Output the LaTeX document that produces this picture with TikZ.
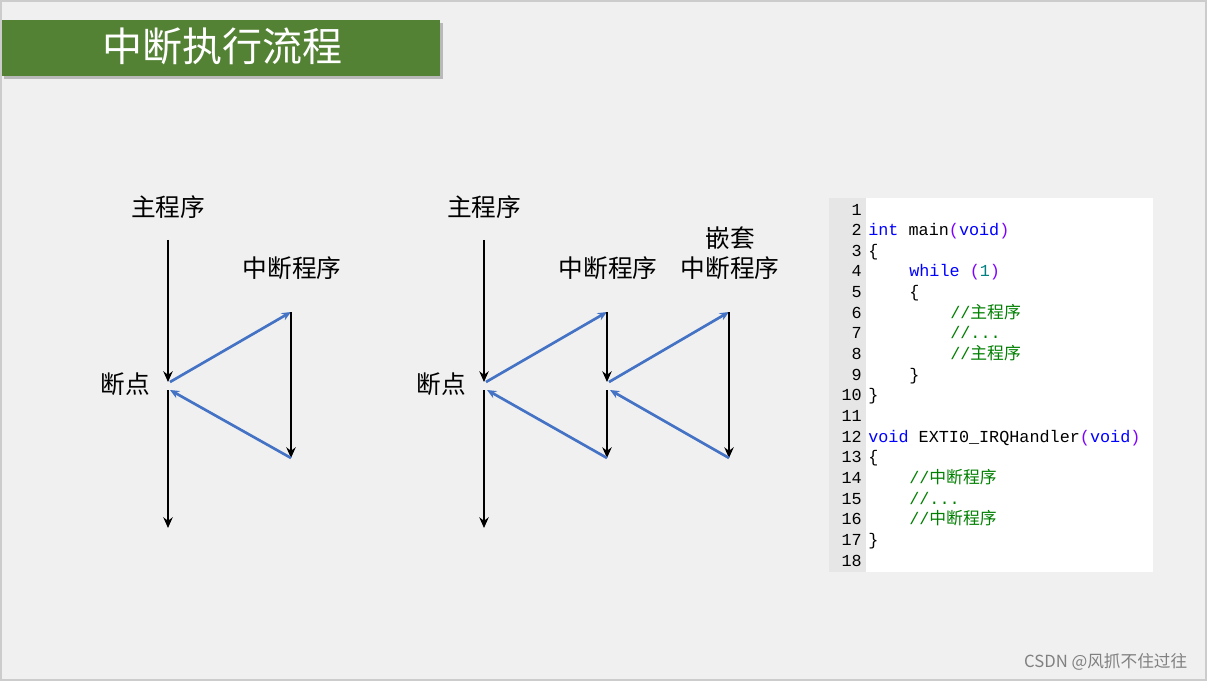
\documentclass[tikz,border=0pt]{standalone}
\usepackage{fontspec}
\setmainfont{Liberation Sans}
\setmonofont{Liberation Mono}
\newfontfamily\cjk{Noto Sans CJK SC}
\usetikzlibrary{arrows.meta}
\definecolor{bg}{HTML}{F0F0F0}
\definecolor{tgreen}{HTML}{548235}
\definecolor{ablue}{HTML}{4472C4}
\definecolor{kw}{HTML}{0000FF}
\definecolor{cm}{HTML}{008000}
\definecolor{pu}{HTML}{8000FF}
\definecolor{gut}{HTML}{E6E6E6}
\begin{document}
\begin{tikzpicture}[x=0.75pt,y=-0.75pt,
  lbl/.style={font=\cjk\fontsize{18.5}{22}\selectfont,inner sep=0},
  blk/.style={draw=black,line width=1.8pt,-{Stealth[length=8pt,width=7pt]}},
  blu/.style={draw=ablue,line width=2pt,-{Stealth[length=7pt,width=6pt]}},
  cd/.style={anchor=base west,inner sep=0,font=\ttfamily\fontsize{12.6}{14}\selectfont},
  ln/.style={anchor=base east,inner sep=0,font=\ttfamily\fontsize{12.6}{14}\selectfont}]
\fill[bg] (0,0) rectangle (1207,681);
\draw[gray!40,line width=1pt] (1,1) rectangle (1206,680);
\fill[gray!55] (4,23) rectangle (443,79);
\fill[tgreen] (2,20) rectangle (440,76);
\node[text=white,font=\cjk\fontsize{30}{34}\selectfont] (title) at (222,46) {中断执行流程};
% diagram 1
\coordinate (a1) at (168,240); \coordinate (a2) at (168,382);
\coordinate (a3) at (168,390); \coordinate (a4) at (168,528);
\coordinate (b1) at (291,312); \coordinate (b2) at (291,458);
\draw[blk] (a1) -- (a2);
\draw[blk] (a3) -- (a4);
\draw[blu] (170,382) coordinate (a2r) -- (b1);
\draw[blk] (b1) -- (b2);
\draw[blu] (b2) -- (170,390) coordinate (a3r);
\node[lbl] (m1) at (168,207) {主程序};
\node[lbl] (i1) at (292,268) {中断程序};
\node[lbl] (d1) at (125,384) {断点};
% diagram 2
\coordinate (c1) at (484,240); \coordinate (c2) at (484,382);
\coordinate (c3) at (484,390); \coordinate (c4) at (484,528);
\coordinate (e1) at (607,312); \coordinate (e2) at (607,382);
\coordinate (e3) at (607,390); \coordinate (e4) at (607,458);
\coordinate (f1) at (729,312); \coordinate (f2) at (729,458);
\draw[blk] (c1) -- (c2);
\draw[blk] (c3) -- (c4);
\draw[blu] (486,382) -- (e1);
\draw[blk] (e1) -- (e2);
\draw[blu] (609,382) -- (f1);
\draw[blk] (f1) -- (f2);
\draw[blu] (f2) -- (610,390);
\draw[blk] (e3) -- (e4);
\draw[blu] (e4) -- (487,390);
\node[lbl] (m2) at (484,207) {主程序};
\node[lbl] (i2) at (608,268) {中断程序};
\node[lbl] (n2) at (730,238) {嵌套};
\node[lbl] (i3) at (730,268) {中断程序};
\node[lbl] (d2) at (441,384) {断点};
% code
\fill[white] (829,198) rectangle (1153,572);
\fill[gut] (829,198) rectangle (866,572);
\foreach \i in {1,...,18} {
  \node[ln] at (862,{215+(\i-1)*20.65}) {\i};
}
\def\Y#1{{215+(#1-1)*20.65}}
\node[cd] at (868,\Y{2}) {\textcolor{kw}{int} main\textcolor{pu}{(}\textcolor{kw}{void}\textcolor{pu}{)}};
\node[cd] at (868,\Y{3}) {\{};
\node[cd] at (909,\Y{4}) {\textcolor{kw}{while} \textcolor{pu}{(}\textcolor{teal}{1}\textcolor{pu}{)}};
\node[cd] at (909,\Y{5}) {\{};
\node[cd,text=cm] at (950,\Y{6}) {//{\cjk 主程序}};
\node[cd,text=cm] at (950,\Y{7}) {//...};
\node[cd,text=cm] at (950,\Y{8}) {//{\cjk 主程序}};
\node[cd] at (909,\Y{9}) {\}};
\node[cd] at (868,\Y{10}) {\}};
\node[cd] at (868,\Y{12}) {\textcolor{kw}{void} EXTI0\_IRQHandler\textcolor{pu}{(}\textcolor{kw}{void}\textcolor{pu}{)}};
\node[cd] at (868,\Y{13}) {\{};
\node[cd,text=cm] at (909,\Y{14}) {//{\cjk 中断程序}};
\node[cd,text=cm] at (909,\Y{15}) {//...};
\node[cd,text=cm] at (909,\Y{16}) {//{\cjk 中断程序}};
\node[cd] at (868,\Y{17}) {\}};
\node[anchor=east,text=gray,font=\cjk\fontsize{12.5}{14}\selectfont] (wm) at (1192,662) {CSDN @风抓不住过往};
\end{tikzpicture}
\end{document}
